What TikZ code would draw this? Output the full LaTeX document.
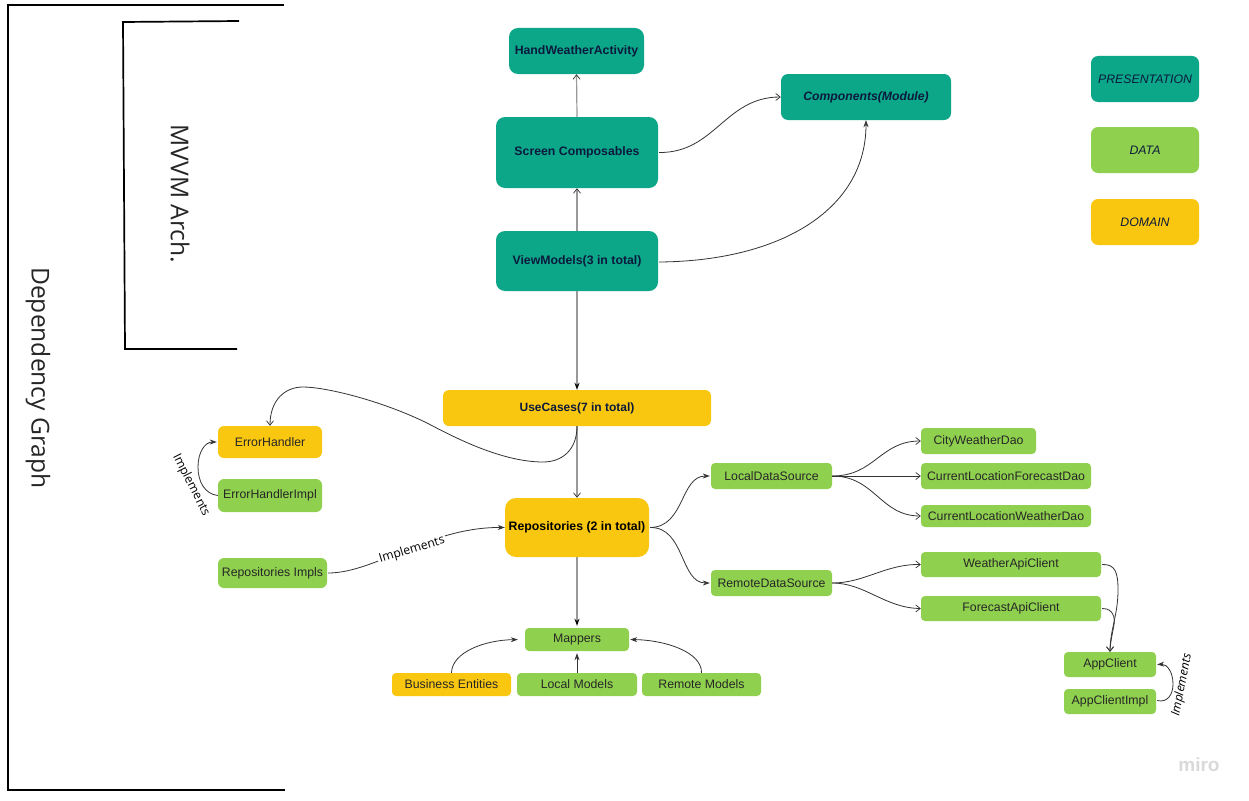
\documentclass[tikz,border=0pt]{standalone}
\usepackage{fontspec}
\setmainfont{Liberation Sans}
\newfontfamily\labelfont{Open Sans}
\usetikzlibrary{arrows.meta}
\definecolor{teal1}{HTML}{0CA789}
\definecolor{green1}{HTML}{8FD14F}
\definecolor{yellow1}{HTML}{FAC710}
\definecolor{navy1}{HTML}{0B1A3C}
\definecolor{line1}{HTML}{333333}
\definecolor{vline}{HTML}{999999}
\tikzset{
  box/.style={inner sep=0pt,align=center,rounded corners=6pt,text=black!85,font=\fontsize{12.3}{14}\selectfont},
  tealbox/.style={box,fill=teal1,text=navy1,font=\fontsize{12.3}{14}\selectfont\bfseries,rounded corners=9pt},
  greenbox/.style={box,fill=green1},
  yellowbox/.style={box,fill=yellow1},
  legendbox/.style={box,rounded corners=7pt,text=navy1,font=\fontsize{12.3}{14}\selectfont\itshape},
  conn/.style={draw=line1,line width=0.8pt},
  open/.style={conn,-{Straight Barb[length=4.5pt,width=7pt,line width=0.7pt]}},
  solid tip/.style={conn,-{Stealth[length=7pt,width=5pt]}},
  vopen/.style={draw=vline,line width=1.2pt,-{Straight Barb[length=4.5pt,width=7pt,line width=0.7pt,color=line1]}},
  vsolid/.style={draw=vline,line width=1.2pt,-{Stealth[length=7pt,width=5pt,color=black]}},
  bracket/.style={draw=black,line width=1.7pt},
  biglabel/.style={font=\labelfont\fontsize{24.6}{28}\selectfont,rotate=-90,text=black!85},
  implabel/.style={font=\labelfont\fontsize{12.2}{15}\selectfont,text=black},
}
\newcommand{\bx}[7]{\node[#1,minimum width=#5pt-#4pt,minimum height=#7pt-#6pt] (#2) at ({(#4+#5)/2},{(#6+#7)/2}) {#3};}
\begin{document}
\begin{tikzpicture}[x=1pt,y=-1pt]
\useasboundingbox (0,0) rectangle (1249,800);
\fill[white] (0,0) rectangle (1249,800);
% brackets
\coordinate (o1) at (284,5); \coordinate (o2) at (8,5); \coordinate (o3) at (8,790); \coordinate (o4) at (285,790);
\draw[bracket] (o1) -- (o2) -- (o3) -- (o4);
\coordinate (i1) at (239,21); \coordinate (i2) at (123,22); \coordinate (i3) at (125,349); \coordinate (i4) at (237,349);
\draw[bracket] (i1) -- (i2) -- (i3) -- (i4);
\node[biglabel] (depgraph) at (38,378) {Dependency Graph};
\node[biglabel] (mvvm) at (180,194) {MVVM Arch.};
% presentation
\bx{tealbox}{hand}{HandWeatherActivity}{509}{644}{28}{74}
\bx{tealbox}{screen}{Screen Composables}{496}{658}{117}{188}
\bx{tealbox}{vm}{ViewModels(3 in total)}{496}{658}{231}{291}
\bx{tealbox,rounded corners=7pt,font=\fontsize{12.2}{14}\selectfont\bfseries\itshape}{comp}{Components(Module)}{781}{951}{74}{120}
% legend
\bx{legendbox,fill=teal1}{legp}{PRESENTATION}{1091}{1199}{56}{102}
\bx{legendbox,fill=green1}{legd}{DATA}{1091}{1199}{127}{173}
\bx{legendbox,fill=yellow1}{legm}{DOMAIN}{1091}{1199}{199}{245}
% domain
\bx{yellowbox,text=navy1,font=\fontsize{12}{14}\selectfont\bfseries}{uc}{UseCases(7 in total)}{443}{711}{390}{426}
\bx{yellowbox,text=black,rounded corners=11pt,font=\fontsize{12.3}{14}\selectfont\bfseries}{repo}{Repositories (2 in total)}{505}{649}{498}{557}
\bx{yellowbox}{eh}{ErrorHandler}{218}{322}{426}{458}
\bx{greenbox}{ehi}{ErrorHandlerImpl}{218}{322}{479}{512}
\bx{greenbox}{ri}{Repositories Impls}{218}{327}{558}{588}
\bx{greenbox,rounded corners=4pt}{map}{Mappers}{525}{629}{628}{651}
\bx{yellowbox,rounded corners=4pt}{be}{Business Entities}{392}{511}{673}{696}
\bx{greenbox,rounded corners=4pt}{lm}{Local Models}{517}{637}{673}{696}
\bx{greenbox,rounded corners=4pt}{rm}{Remote Models}{642}{761}{673}{696}
\bx{greenbox,rounded corners=4pt}{lds}{LocalDataSource}{711}{832}{463}{489}
\bx{greenbox,rounded corners=4pt}{rds}{RemoteDataSource}{711}{832}{570}{596}
\bx{greenbox,rounded corners=4pt}{city}{CityWeatherDao}{921}{1036}{428}{454}
\bx{greenbox,rounded corners=4pt}{clf}{CurrentLocationForecastDao}{921}{1091}{463}{489}
\bx{greenbox,rounded corners=4pt}{clw}{CurrentLocationWeatherDao}{921}{1091}{505}{527}
\bx{greenbox,rounded corners=4pt}{wac}{WeatherApiClient}{921}{1101}{552}{577}
\bx{greenbox,rounded corners=4pt}{fac}{ForecastApiClient}{921}{1101}{596}{621}
\bx{greenbox,rounded corners=4pt}{app}{AppClient}{1064}{1156}{652}{677}
\bx{greenbox,rounded corners=4pt}{appi}{AppClientImpl}{1064}{1156}{689}{714}
% vertical links
\draw[vopen] (screen.north) -- (hand.south);
\draw[vopen] (vm.north) -- (screen.south);
\draw[vsolid] (vm.south) -- (uc.north);
\draw[vopen] (uc.south) -- (repo.north);
\draw[vsolid,shorten >=2pt] (repo.south) -- (map.north);
% curved links
\draw[open] (screen.east) ++(1,0) .. controls (715,153) and (725,97) .. (comp.west);
\draw[solid tip] (vm.east) ++(1,1) .. controls (780,261) and (866,210) .. (comp.south);
\draw[open] (uc.south) .. controls (577,450) and (562,462) .. (543,462) .. controls (500,462) and (450,435) .. (427,423) .. controls (380,400) and (325,387) .. (303,387) .. controls (285,387) and (270,400) .. (eh.north);
\draw[solid tip,shorten >=1pt] (ehi.west) .. controls (205,494) and (198,482) .. (198,467) .. controls (198,452) and (205,442) .. (eh.west);
\node[implabel,rotate=-63] (implA) at (191,485) {Implements};
\draw[solid tip] (ri.east) ++(1,0) .. controls (375,573) and (430,527) .. (repo.west);
\node[implabel,rotate=17,fill=white,inner sep=1.5pt] (implB) at (412,550) {Implements};
\draw[solid tip,shorten >=7pt] (be.north) .. controls (452,652) and (485,640) .. (map.west);
\draw[solid tip,shorten >=2pt] (lm.north) -- (map.south);
\draw[solid tip,shorten >=1pt] (rm.north) .. controls (702,652) and (665,640) .. (map.east);
% data sources
\draw[solid tip,shorten >=1pt] (repo.east) ++(1,0) .. controls (685,527) and (680,476) .. (lds.west);
\draw[solid tip,shorten >=1pt] (repo.east) ++(1,0) .. controls (685,527) and (680,583) .. (rds.west);
\draw[open] (lds.east) .. controls (875,476) and (880,441) .. (city.west);
\draw[open] (lds.east) -- (clf.west);
\draw[open] (lds.east) .. controls (875,476) and (880,516) .. (clw.west);
\draw[open] (rds.east) .. controls (865,583) and (885,564) .. (wac.west);
\draw[open] (rds.east) .. controls (865,583) and (885,608) .. (fac.west);
\draw[open] (wac.east) ++(1,0) .. controls (1115,564) and (1118,572) .. (1118,590) .. controls (1118,615) and (1110,630) .. (app.north);
\draw[open] (fac.east) ++(1,0) .. controls (1108,608) and (1116,612) .. (1114,625) .. controls (1112,635) and (1110,645) .. (app.north);
\draw[solid tip,shorten >=1pt] (appi.east) ++(1,-1) .. controls (1167,703) and (1173,695) .. (1173,684) .. controls (1173,672) and (1167,664) .. (app.east);
\node[implabel,rotate=79,font=\labelfont\itshape\fontsize{12.2}{15}\selectfont] (implC) at (1182,685) {Implements};
\node[font=\fontsize{19}{21}\selectfont\bfseries,text=black!15] (miro) at (1199,765) {miro};
\end{tikzpicture}
\end{document}
